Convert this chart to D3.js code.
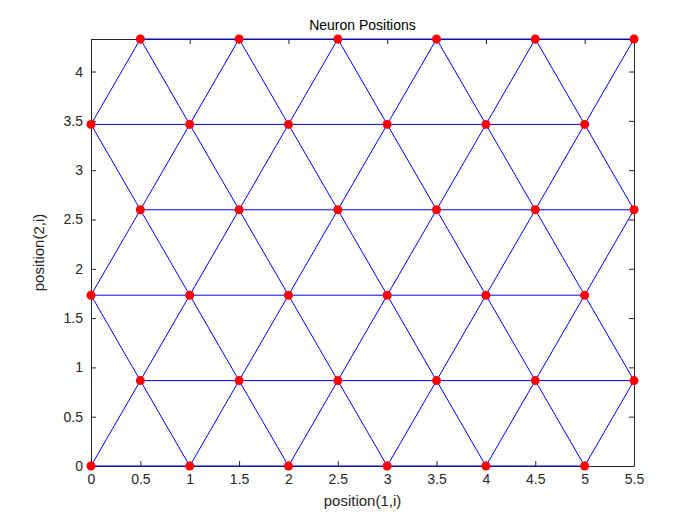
<!DOCTYPE html>
<html><head><meta charset="utf-8">
<script src="https://d3js.org/d3.v7.min.js"></script>
<style>body{margin:0;background:#fff}text{font-family:"Liberation Sans",Arial,sans-serif}</style>
</head><body><svg id="c" width="700" height="525"></svg>
<script>
// neuron positions (hextop 6x6)
var posX = [0,1,2,3,4,5, 0.5,1.5,2.5,3.5,4.5,5.5, 0,1,2,3,4,5, 0.5,1.5,2.5,3.5,4.5,5.5, 0,1,2,3,4,5, 0.5,1.5,2.5,3.5,4.5,5.5];
var posY = [0,0,0,0,0,0, 0.866,0.866,0.866,0.866,0.866,0.866, 1.732,1.732,1.732,1.732,1.732,1.732,
            2.598,2.598,2.598,2.598,2.598,2.598, 3.464,3.464,3.464,3.464,3.464,3.464, 4.330,4.330,4.330,4.330,4.330,4.330];
var xTicks = [0,0.5,1,1.5,2,2.5,3,3.5,4,4.5,5,5.5];
var yTicks = [0,0.5,1,1.5,2,2.5,3,3.5,4];

var M = {L:91, R:634, T:39, B:466};
var svg = d3.select("#c");
var x = d3.scaleLinear().domain([0,5.5]).range([M.L,M.R]);
var y = d3.scaleLinear().domain([0,4.33]).range([M.B,M.T]);

function styleAxis(g){ g.select(".domain").attr("stroke","#262626"); g.selectAll("line").attr("stroke","#262626");
  g.selectAll("text").attr("font-size",14).attr("fill","#262626"); }
var fmt = d3.format("~g");
svg.append("g").attr("transform","translate(0,"+M.B+")").call(d3.axisBottom(x).tickValues(xTicks).tickFormat(fmt).tickSize(-5).tickSizeOuter(0).tickPadding(8)).call(styleAxis);
svg.append("g").attr("transform","translate(0,"+M.T+")").call(d3.axisTop(x).tickValues(xTicks).tickFormat("").tickSize(-5).tickSizeOuter(0)).call(styleAxis);
svg.append("g").attr("transform","translate("+M.L+",0)").call(d3.axisLeft(y).tickValues(yTicks).tickFormat(fmt).tickSize(-5).tickSizeOuter(0).tickPadding(8)).call(styleAxis);
svg.append("g").attr("transform","translate("+M.R+",0)").call(d3.axisRight(y).tickValues(yTicks).tickFormat("").tickSize(-5).tickSizeOuter(0)).call(styleAxis);

// links between neighbours at distance 1
var links = [];
for (var i=0;i<posX.length;i++) for (var j=i+1;j<posX.length;j++){
  var d = Math.hypot(posX[i]-posX[j], posY[i]-posY[j]);
  if (Math.abs(d-1) < 0.02) links.push([i,j]);
}
svg.append("g").selectAll("line").data(links).enter().append("line")
  .attr("x1",d=>x(posX[d[0]])).attr("y1",d=>y(posY[d[0]]))
  .attr("x2",d=>x(posX[d[1]])).attr("y2",d=>y(posY[d[1]]))
  .attr("stroke","#0000ff").attr("stroke-width",1);

svg.append("g").selectAll("circle").data(posX).enter().append("circle")
  .attr("cx",(d,i)=>x(posX[i])).attr("cy",(d,i)=>y(posY[i])).attr("r",4.5).attr("fill","#ff0000");

svg.append("text").attr("x",(M.L+M.R)/2).attr("y",30).attr("text-anchor","middle").attr("font-size",14).attr("fill","#000").text("Neuron Positions");
svg.append("text").attr("x",(M.L+M.R)/2).attr("y",506).attr("text-anchor","middle").attr("font-size",15).attr("fill","#262626").text("position(1,i)");
svg.append("text").attr("transform","translate(44,"+((M.T+M.B)/2)+") rotate(-90)").attr("text-anchor","middle").attr("font-size",15).attr("fill","#262626").text("position(2,i)");
</script></body></html>
